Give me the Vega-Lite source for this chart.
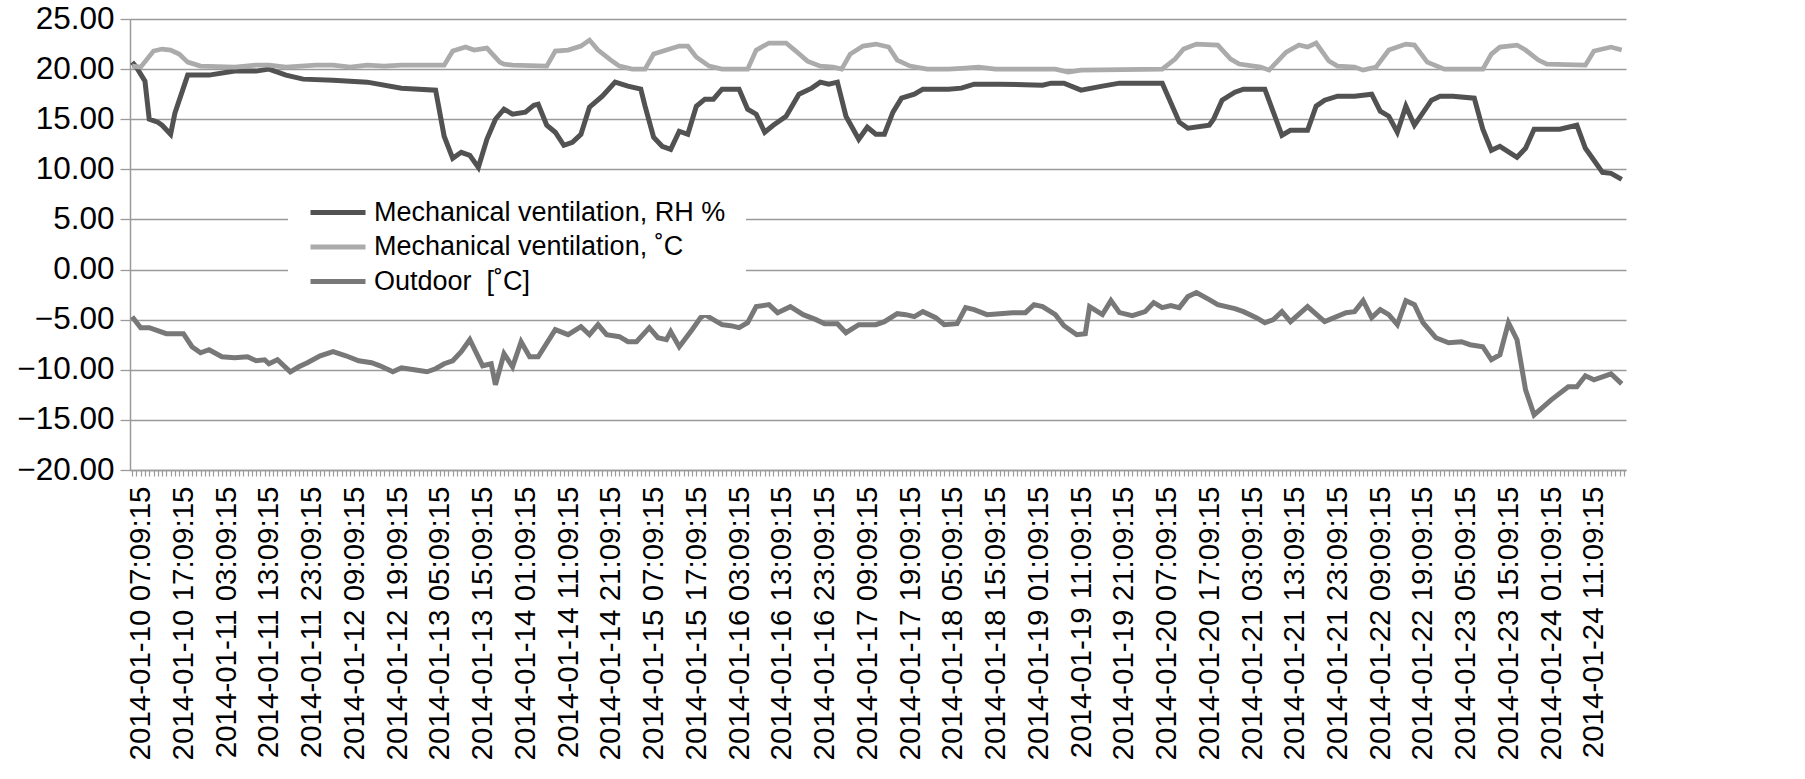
{
  "$schema": "https://vega.github.io/schema/vega-lite/v6.json",
  "width": 1496,
  "height": 451,
  "autosize": {"type": "none"},
  "padding": {"left": 130, "top": 19, "right": 179, "bottom": 309},
  "background": "white",
  "config": {
    "view": {"stroke": null},
    "font": "Liberation Sans"
  },
  "datasets": {
    "rh": [
      {"h": -2, "v": 20.7}, {"h": -1, "v": 20.2}, {"h": 1, "v": 18.8}, {"h": 2, "v": 15.0}, {"h": 4, "v": 14.7},
      {"h": 5, "v": 14.4}, {"h": 7, "v": 13.5}, {"h": 8, "v": 15.6}, {"h": 11, "v": 19.4}, {"h": 16, "v": 19.4},
      {"h": 22, "v": 19.8}, {"h": 27, "v": 19.8}, {"h": 30, "v": 20.0}, {"h": 34, "v": 19.4}, {"h": 38, "v": 19.0},
      {"h": 45, "v": 18.9}, {"h": 53, "v": 18.7}, {"h": 61, "v": 18.1}, {"h": 69, "v": 17.9}, {"h": 71, "v": 13.3},
      {"h": 73, "v": 11.1}, {"h": 75, "v": 11.7}, {"h": 77, "v": 11.4}, {"h": 79, "v": 10.2}, {"h": 81, "v": 13.0},
      {"h": 83, "v": 15.0}, {"h": 85, "v": 16.0}, {"h": 87, "v": 15.5}, {"h": 90, "v": 15.7}, {"h": 92, "v": 16.4},
      {"h": 93, "v": 16.5}, {"h": 95, "v": 14.4}, {"h": 97, "v": 13.7}, {"h": 99, "v": 12.4}, {"h": 101, "v": 12.7},
      {"h": 103, "v": 13.5}, {"h": 105, "v": 16.2}, {"h": 108, "v": 17.3}, {"h": 111, "v": 18.7}, {"h": 114, "v": 18.3},
      {"h": 117, "v": 18.0}, {"h": 118, "v": 16.3}, {"h": 120, "v": 13.2}, {"h": 122, "v": 12.3}, {"h": 124, "v": 12.0},
      {"h": 126, "v": 13.8}, {"h": 128, "v": 13.5}, {"h": 130, "v": 16.3}, {"h": 132, "v": 17.0}, {"h": 134, "v": 17.0},
      {"h": 136, "v": 18.0}, {"h": 140, "v": 18.0}, {"h": 142, "v": 16.0}, {"h": 144, "v": 15.5}, {"h": 146, "v": 13.7},
      {"h": 148, "v": 14.4}, {"h": 151, "v": 15.3}, {"h": 154, "v": 17.5}, {"h": 157, "v": 18.1}, {"h": 159, "v": 18.7},
      {"h": 161, "v": 18.5}, {"h": 163, "v": 18.7}, {"h": 165, "v": 15.3}, {"h": 168, "v": 13.0}, {"h": 170, "v": 14.2},
      {"h": 172, "v": 13.5}, {"h": 174, "v": 13.5}, {"h": 176, "v": 15.7}, {"h": 178, "v": 17.1}, {"h": 181, "v": 17.5},
      {"h": 183, "v": 18.0}, {"h": 189, "v": 18.0}, {"h": 192, "v": 18.1}, {"h": 195, "v": 18.5}, {"h": 201, "v": 18.5},
      {"h": 211, "v": 18.4}, {"h": 213, "v": 18.6}, {"h": 216, "v": 18.6}, {"h": 220, "v": 17.9}, {"h": 225, "v": 18.3},
      {"h": 229, "v": 18.6}, {"h": 239, "v": 18.6}, {"h": 243, "v": 14.7}, {"h": 245, "v": 14.1}, {"h": 250, "v": 14.4},
      {"h": 251, "v": 15.0}, {"h": 253, "v": 16.9}, {"h": 256, "v": 17.7}, {"h": 258, "v": 18.0}, {"h": 263, "v": 18.0},
      {"h": 267, "v": 13.4}, {"h": 269, "v": 13.9}, {"h": 273, "v": 13.9}, {"h": 275, "v": 16.3}, {"h": 277, "v": 16.9},
      {"h": 280, "v": 17.3}, {"h": 284, "v": 17.3}, {"h": 288, "v": 17.5}, {"h": 290, "v": 15.8}, {"h": 292, "v": 15.3},
      {"h": 294, "v": 13.7}, {"h": 296, "v": 16.3}, {"h": 298, "v": 14.4}, {"h": 302, "v": 16.9}, {"h": 304, "v": 17.3},
      {"h": 307, "v": 17.3}, {"h": 312, "v": 17.1}, {"h": 314, "v": 14.0}, {"h": 316, "v": 11.9}, {"h": 318, "v": 12.3},
      {"h": 322, "v": 11.2}, {"h": 324, "v": 12.1}, {"h": 326, "v": 14.0}, {"h": 332, "v": 14.0}, {"h": 336, "v": 14.4},
      {"h": 338, "v": 12.1}, {"h": 340, "v": 10.9}, {"h": 342, "v": 9.7}, {"h": 344, "v": 9.6}, {"h": 346.5, "v": 9.0}
    ],
    "mv": [
      {"h": -2, "v": 20.3}, {"h": 0, "v": 20.2}, {"h": 3, "v": 21.8}, {"h": 5, "v": 22.0}, {"h": 7, "v": 21.9},
      {"h": 9, "v": 21.5}, {"h": 11, "v": 20.7}, {"h": 14, "v": 20.3}, {"h": 22, "v": 20.2}, {"h": 27, "v": 20.4},
      {"h": 30, "v": 20.4}, {"h": 34, "v": 20.2}, {"h": 41, "v": 20.4}, {"h": 45, "v": 20.4}, {"h": 49, "v": 20.2},
      {"h": 53, "v": 20.4}, {"h": 57, "v": 20.3}, {"h": 61, "v": 20.4}, {"h": 71, "v": 20.4}, {"h": 73, "v": 21.8},
      {"h": 76, "v": 22.2}, {"h": 78, "v": 21.9}, {"h": 81, "v": 22.1}, {"h": 84, "v": 20.7}, {"h": 85, "v": 20.5},
      {"h": 87, "v": 20.4}, {"h": 95, "v": 20.3}, {"h": 97, "v": 21.8}, {"h": 100, "v": 21.9}, {"h": 103, "v": 22.3},
      {"h": 105, "v": 22.9}, {"h": 107, "v": 21.9}, {"h": 110, "v": 20.9}, {"h": 112, "v": 20.3}, {"h": 115, "v": 20.0},
      {"h": 118, "v": 20.0}, {"h": 120, "v": 21.5}, {"h": 123, "v": 21.9}, {"h": 126, "v": 22.3}, {"h": 128, "v": 22.3},
      {"h": 130, "v": 21.2}, {"h": 133, "v": 20.3}, {"h": 136, "v": 20.0}, {"h": 142, "v": 20.0}, {"h": 144, "v": 21.9},
      {"h": 147, "v": 22.6}, {"h": 151, "v": 22.6}, {"h": 153, "v": 21.9}, {"h": 156, "v": 20.8}, {"h": 159, "v": 20.3},
      {"h": 162, "v": 20.2}, {"h": 164, "v": 20.0}, {"h": 166, "v": 21.5}, {"h": 169, "v": 22.3}, {"h": 172, "v": 22.5},
      {"h": 175, "v": 22.2}, {"h": 177, "v": 20.9}, {"h": 180, "v": 20.3}, {"h": 184, "v": 20.0}, {"h": 189, "v": 20.0},
      {"h": 193, "v": 20.1}, {"h": 196, "v": 20.2}, {"h": 200, "v": 20.0}, {"h": 214, "v": 20.0}, {"h": 217, "v": 19.7},
      {"h": 220, "v": 19.9}, {"h": 239, "v": 20.0}, {"h": 242, "v": 21.0}, {"h": 244, "v": 22.0}, {"h": 247, "v": 22.5},
      {"h": 252, "v": 22.4}, {"h": 255, "v": 21.0}, {"h": 257, "v": 20.5}, {"h": 262, "v": 20.2}, {"h": 264, "v": 19.9},
      {"h": 266, "v": 20.8}, {"h": 268, "v": 21.7}, {"h": 271, "v": 22.4}, {"h": 273, "v": 22.2}, {"h": 275, "v": 22.6},
      {"h": 278, "v": 20.8}, {"h": 280, "v": 20.3}, {"h": 284, "v": 20.2}, {"h": 286, "v": 19.9}, {"h": 289, "v": 20.2},
      {"h": 292, "v": 21.9}, {"h": 296, "v": 22.5}, {"h": 298, "v": 22.4}, {"h": 301, "v": 20.7}, {"h": 305, "v": 20.0},
      {"h": 314, "v": 20.0}, {"h": 316, "v": 21.5}, {"h": 318, "v": 22.2}, {"h": 322, "v": 22.4}, {"h": 324, "v": 21.9},
      {"h": 327, "v": 20.9}, {"h": 329, "v": 20.5}, {"h": 338, "v": 20.4}, {"h": 340, "v": 21.8}, {"h": 344, "v": 22.2},
      {"h": 346.5, "v": 21.9}
    ],
    "out": [
      {"h": -2, "v": -4.7}, {"h": 0, "v": -5.8}, {"h": 2, "v": -5.8}, {"h": 6, "v": -6.4}, {"h": 10, "v": -6.4},
      {"h": 12, "v": -7.7}, {"h": 14, "v": -8.3}, {"h": 16, "v": -8.0}, {"h": 19, "v": -8.7}, {"h": 22, "v": -8.8},
      {"h": 25, "v": -8.7}, {"h": 27, "v": -9.1}, {"h": 29, "v": -9.0}, {"h": 30, "v": -9.4}, {"h": 32, "v": -9.0},
      {"h": 35, "v": -10.2}, {"h": 37, "v": -9.7}, {"h": 39, "v": -9.3}, {"h": 42, "v": -8.6}, {"h": 45, "v": -8.2},
      {"h": 48, "v": -8.6}, {"h": 51, "v": -9.1}, {"h": 54, "v": -9.3}, {"h": 56, "v": -9.6}, {"h": 59, "v": -10.2},
      {"h": 61, "v": -9.8}, {"h": 64, "v": -10.0}, {"h": 67, "v": -10.2}, {"h": 69, "v": -9.9}, {"h": 71, "v": -9.4},
      {"h": 73, "v": -9.1}, {"h": 75, "v": -8.2}, {"h": 77, "v": -7.0}, {"h": 80, "v": -9.6}, {"h": 82, "v": -9.4},
      {"h": 83, "v": -11.5}, {"h": 85, "v": -8.4}, {"h": 87, "v": -9.7}, {"h": 89, "v": -7.2}, {"h": 91, "v": -8.7},
      {"h": 93, "v": -8.7}, {"h": 97, "v": -6.0}, {"h": 100, "v": -6.5}, {"h": 103, "v": -5.7}, {"h": 105, "v": -6.5},
      {"h": 107, "v": -5.5}, {"h": 109, "v": -6.5}, {"h": 112, "v": -6.7}, {"h": 114, "v": -7.2}, {"h": 116, "v": -7.2},
      {"h": 119, "v": -5.8}, {"h": 121, "v": -6.8}, {"h": 123, "v": -7.0}, {"h": 124, "v": -6.2}, {"h": 126, "v": -7.7},
      {"h": 129, "v": -6.0}, {"h": 131, "v": -4.8}, {"h": 132, "v": -4.5}, {"h": 136, "v": -5.5}, {"h": 138, "v": -5.6},
      {"h": 140, "v": -5.8}, {"h": 142, "v": -5.3}, {"h": 144, "v": -3.7}, {"h": 147, "v": -3.5}, {"h": 149, "v": -4.3},
      {"h": 152, "v": -3.7}, {"h": 155, "v": -4.5}, {"h": 158, "v": -5.0}, {"h": 160, "v": -5.4}, {"h": 163, "v": -5.4},
      {"h": 165, "v": -6.3}, {"h": 168, "v": -5.5}, {"h": 172, "v": -5.5}, {"h": 174, "v": -5.2}, {"h": 177, "v": -4.4},
      {"h": 179, "v": -4.5}, {"h": 181, "v": -4.7}, {"h": 183, "v": -4.2}, {"h": 186, "v": -4.8}, {"h": 188, "v": -5.5},
      {"h": 191, "v": -5.4}, {"h": 193, "v": -3.8}, {"h": 195, "v": -4.0}, {"h": 198, "v": -4.5}, {"h": 201, "v": -4.4},
      {"h": 204, "v": -4.3}, {"h": 207, "v": -4.3}, {"h": 209, "v": -3.5}, {"h": 211, "v": -3.7}, {"h": 214, "v": -4.5},
      {"h": 216, "v": -5.6}, {"h": 219, "v": -6.5}, {"h": 221, "v": -6.4}, {"h": 222, "v": -3.7}, {"h": 225, "v": -4.5},
      {"h": 227, "v": -3.1}, {"h": 229, "v": -4.3}, {"h": 232, "v": -4.6}, {"h": 235, "v": -4.2}, {"h": 237, "v": -3.3},
      {"h": 239, "v": -3.8}, {"h": 241, "v": -3.6}, {"h": 243, "v": -3.8}, {"h": 245, "v": -2.7}, {"h": 247, "v": -2.3},
      {"h": 250, "v": -3.0}, {"h": 252, "v": -3.5}, {"h": 256, "v": -3.9}, {"h": 258, "v": -4.2}, {"h": 261, "v": -4.8},
      {"h": 263, "v": -5.3}, {"h": 265, "v": -5.0}, {"h": 267, "v": -4.2}, {"h": 269, "v": -5.2}, {"h": 273, "v": -3.7},
      {"h": 277, "v": -5.2}, {"h": 282, "v": -4.3}, {"h": 284, "v": -4.2}, {"h": 286, "v": -3.1}, {"h": 288, "v": -4.8},
      {"h": 290, "v": -4.0}, {"h": 292, "v": -4.5}, {"h": 294, "v": -5.5}, {"h": 296, "v": -3.1}, {"h": 298, "v": -3.5},
      {"h": 300, "v": -5.3}, {"h": 303, "v": -6.8}, {"h": 306, "v": -7.3}, {"h": 309, "v": -7.2}, {"h": 311, "v": -7.5},
      {"h": 314, "v": -7.7}, {"h": 316, "v": -9.0}, {"h": 318, "v": -8.5}, {"h": 320, "v": -5.3}, {"h": 322, "v": -7.0},
      {"h": 324, "v": -12.0}, {"h": 326, "v": -14.5}, {"h": 330, "v": -13.0}, {"h": 334, "v": -11.7}, {"h": 336, "v": -11.7},
      {"h": 338, "v": -10.6}, {"h": 340, "v": -11.0}, {"h": 344, "v": -10.4}, {"h": 346.5, "v": -11.4}
    ]
  },
  "encoding": {
    "x": {
      "field": "h",
      "type": "quantitative",
      "title": null,
      "scale": {"domain": [-2.5, 347.5], "nice": false, "zero": false},
      "axis": {
        "tickCount": 350,
        "grid": false,
        "domainColor": "#9a9a9a",
        "domainWidth": 1.5,
        "tickColor": "#9a9a9a",
        "tickWidth": 1.2,
        "tickSize": 6,
        "labelAngle": 270,
        "labelAlign": "right",
        "labelBaseline": "middle",
        "labelPadding": 10,
        "labelOverlap": false,
        "labelFlush": false,
        "labelLimit": 500,
        "labelFont": "Liberation Sans",
        "labelFontSize": 29.5,
        "labelColor": "#000000",
        "labelExpr": "datum.value >= 0 && datum.value % 10 == 0 ? timeFormat(datetime(2014, 0, 10, 7 + datum.value, 9, 15), '%Y-%m-%d %H:%M:%S') : ''"
      }
    },
    "y": {
      "field": "v",
      "type": "quantitative",
      "title": null,
      "scale": {"domain": [-20, 25], "nice": false, "zero": false},
      "axis": {
        "values": [-20, -15, -10, -5, 0, 5, 10, 15, 20, 25],
        "format": ".2f",
        "grid": true,
        "gridColor": "#9a9a9a",
        "gridWidth": 1.3,
        "domainColor": "#9a9a9a",
        "domainWidth": 1.5,
        "tickColor": "#9a9a9a",
        "tickWidth": 1.3,
        "tickSize": 10,
        "labelPadding": 6,
        "labelFont": "Liberation Sans",
        "labelFontSize": 31.5,
        "labelColor": "#000000"
      }
    }
  },
  "layer": [
    {
      "data": {"name": "rh"},
      "mark": {"type": "line", "strokeWidth": 5},
      "encoding": {
        "color": {
          "datum": "Mechanical ventilation, RH %",
          "scale": {
            "domain": ["Mechanical ventilation, RH %", "Mechanical ventilation, ˚C", "Outdoor \u00a0[˚C]"],
            "range": ["#525252", "#ababab", "#787878"]
          },
          "legend": {
            "title": null,
            "orient": "none",
            "legendX": 158,
            "legendY": 160,
            "symbolType": "stroke",
            "symbolSize": 3025,
            "symbolStrokeWidth": 5,
            "clipHeight": 27,
            "labelFont": "Liberation Sans",
            "labelFontSize": 27,
            "labelColor": "#000000",
            "labelOffset": 6,
            "labelLimit": 600,
            "rowPadding": 6.5,
            "padding": 20,
            "fillColor": "white",
            "strokeColor": null
          }
        }
      }
    },
    {
      "data": {"name": "mv"},
      "mark": {"type": "line", "strokeWidth": 4.7},
      "encoding": {"color": {"datum": "Mechanical ventilation, ˚C"}}
    },
    {
      "data": {"name": "out"},
      "mark": {"type": "line", "strokeWidth": 5},
      "encoding": {"color": {"datum": "Outdoor \u00a0[˚C]"}}
    }
  ]
}
